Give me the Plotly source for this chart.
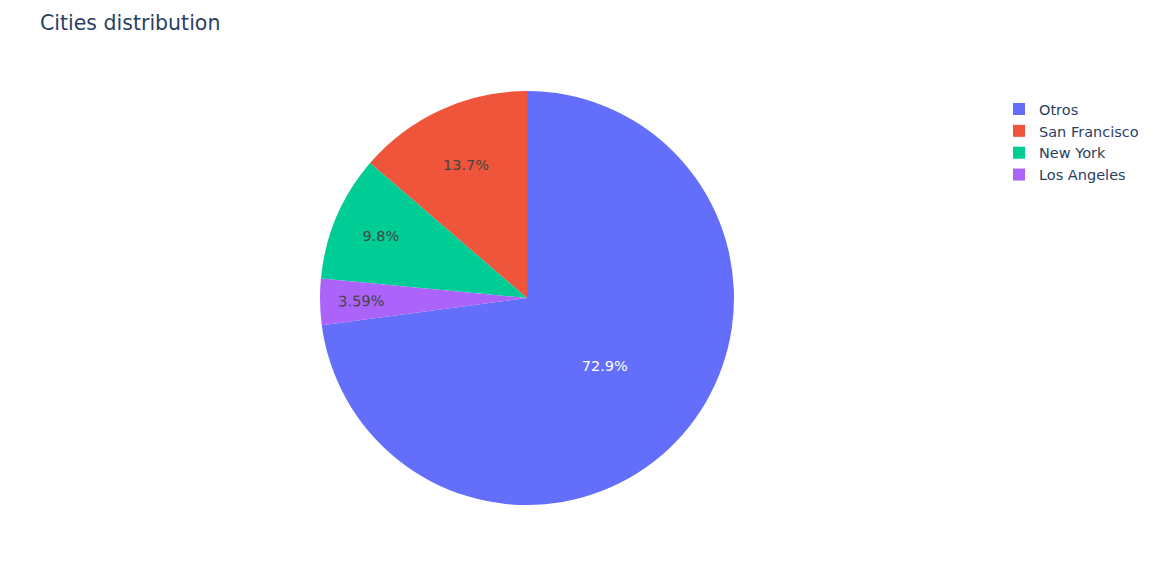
import plotly.graph_objects as go

cities = ["Otros", "San Francisco", "New York", "Los Angeles"]
shares = [72.9, 13.7, 9.8, 3.59]

W, H = 1150, 568
fig = go.Figure(go.Pie(labels=cities, values=shares, sort=True))
fig.update_layout(
    template="plotly",
    width=W, height=H,
    font=dict(family="DejaVu Sans, Verdana, sans-serif", size=14.5),
    title=dict(text="Cities distribution", x=32 / W, xanchor="left",
               y=1 - 15 / H, yanchor="middle", font=dict(size=20.5)),
    margin=dict(t=83, b=71, l=80, r=192),
    legend=dict(x=1.0376, y=0.995, xanchor="left", yanchor="top"),
)
fig.write_html("out.html")
